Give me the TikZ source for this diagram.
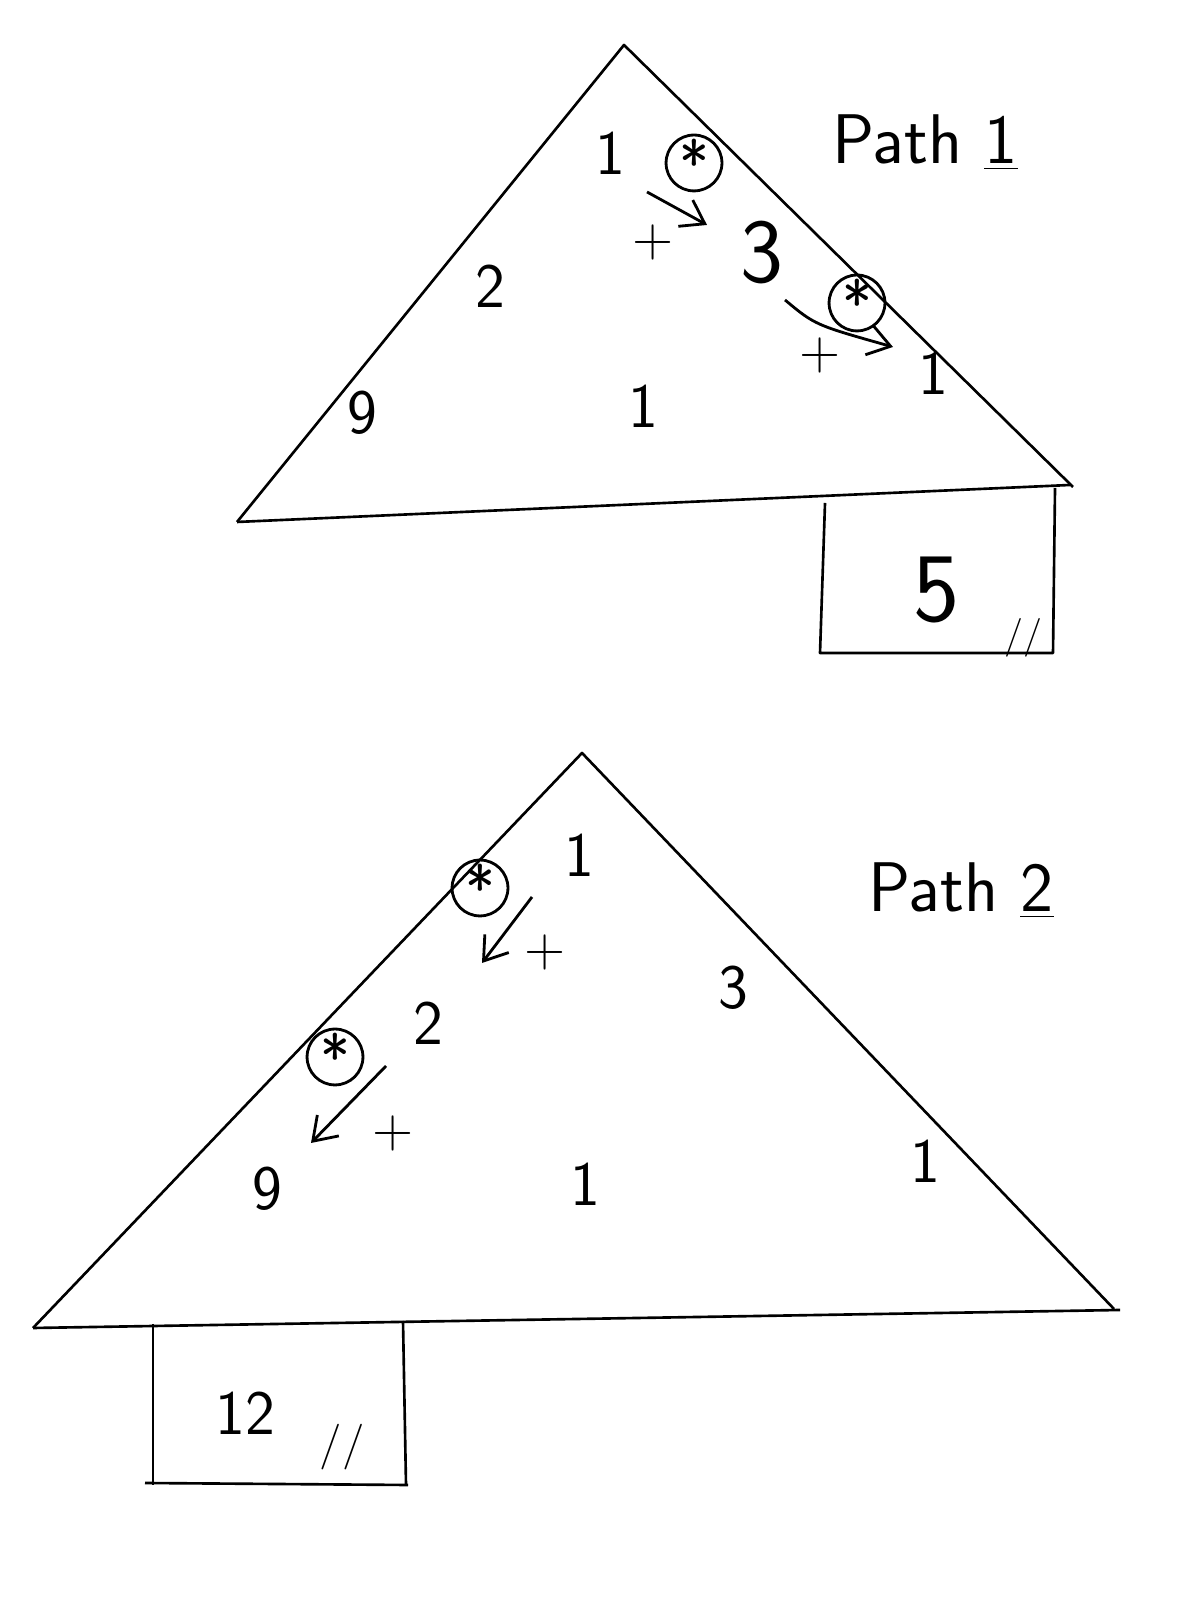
\documentclass[tikz,border=0pt]{standalone}
\usepackage{tikz}
\usetikzlibrary{calc,positioning,arrows.meta}
\tikzstyle{side}      = [line width=0.75pt, line join=round]
\tikzstyle{move}      = [line width=0.8pt,-{Straight Barb[length=2.2mm,width=3mm]}]
\tikzstyle{val}       = [font=\sffamily\fontsize{18}{20}\selectfont, inner sep=0pt]
\tikzstyle{sign}      = [font=\sffamily\fontsize{16}{18}\selectfont, inner sep=0pt]
\tikzstyle{star}      = [circle, draw, line width=0.8pt, minimum size=0.5cm, inner sep=0pt, font=\sffamily\fontsize{18}{18}\selectfont]
\tikzstyle{title}     = [font=\sffamily\fontsize{20}{22}\selectfont, inner sep=0pt]

\begin{document}
\begin{tikzpicture}
        \useasboundingbox (0,0) rectangle (12.02,16);

        % path 1
        \coordinate (top1) at (6.24,15.55);
        \coordinate (left1) at (2.37,10.78);
        \coordinate (right1) at (10.73,11.13);
        \draw[side] (left1) -- (top1) -- (right1);
        \draw[side] (left1) -- (10.70,11.15);
        \draw[side] (8.25,10.97) -- (8.20,9.47) -- (10.53,9.47) -- (10.55,11.12);

        \node[title] (name1) at (9.25,14.57) {Path \underline{1}};
        \node[val] (a1) at (6.10,14.47) {1};
        \node[star] (s1) at (6.94,14.37) {*};
        \node[sign] (p1) at (6.53,13.58) {+};
        \node[val, font=\sffamily\fontsize{26}{28}\selectfont] (c1) at (7.62,13.47) {3};
        \node[val] (b1) at (4.90,13.14) {2};
        \node[star] (s2) at (8.57,12.97) {*};
        \node[sign] (p2) at (8.20,12.45) {+};
        \node[val] (d1) at (9.33,12.27) {1};
        \node[val] (e1) at (3.62,11.87) {9};
        \node[val] (f1) at (6.43,11.94) {1};
        \node[val, font=\sffamily\fontsize{28}{30}\selectfont] (g1) at (9.37,10.10) {5};
        \node[sign, font=\sffamily\fontsize{11}{12}\selectfont] (h1) at (10.23,9.62) {//};

        \coordinate (u1) at (6.47,14.08);
        \coordinate (v1) at (7.07,13.75);
        \coordinate (u2) at (7.85,13.00);
        \coordinate (v2) at (8.93,12.53);
        \draw[move] (u1) -- (v1);
        \draw[move] (u2) .. controls (8.15,12.75) .. (v2);

        % path 2
        \coordinate (top2) at (5.82,8.47);
        \coordinate (left2) at (0.33,2.72);
        \coordinate (right2) at (11.14,2.91);
        \draw[side] (left2) -- (top2) -- (right2);
        \draw[side] (left2) -- (11.20,2.90);
        \draw[side] (1.53,2.76) -- (1.53,1.15);
        \draw[side] (4.03,2.79) -- (4.06,1.15);
        \draw[side] (1.45,1.17) -- (4.08,1.15);

        \node[title] (name2) at (9.61,7.09) {Path \underline{2}};
        \node[val] (a2) at (5.79,7.45) {1};
        \node[star] (s3) at (4.80,7.12) {*};
        \node[sign] (p3) at (5.45,6.48) {+};
        \node[val] (c2) at (7.33,6.12) {3};
        \node[val] (b2) at (4.28,5.77) {2};
        \node[star] (s4) at (3.35,5.43) {*};
        \node[sign] (p4) at (3.93,4.67) {+};
        \node[val] (e2) at (2.67,4.11) {9};
        \node[val] (f2) at (5.85,4.16) {1};
        \node[val] (d2) at (9.25,4.39) {1};
        \node[val] (g2) at (2.45,1.87) {12};
        \node[sign, font=\sffamily\fontsize{13}{14}\selectfont] (h2) at (3.42,1.53) {//};

        \coordinate (u3) at (5.32,7.03);
        \coordinate (v3) at (4.82,6.37);
        \coordinate (u4) at (3.86,5.34);
        \coordinate (v4) at (3.11,4.57);
        \draw[move] (u3) -- (v3);
        \draw[move] (u4) -- (v4);
    \end{tikzpicture}
\end{document}
